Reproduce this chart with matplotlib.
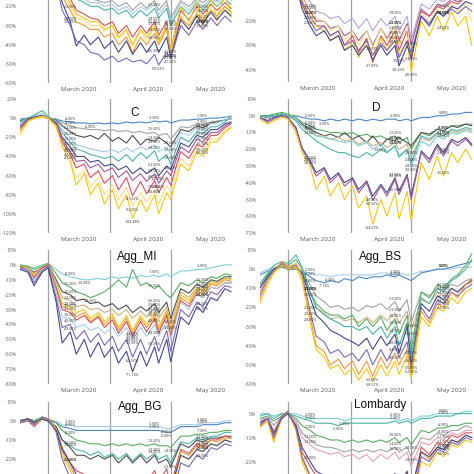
import matplotlib
matplotlib.use("Agg")
import matplotlib.pyplot as plt
import matplotlib.dates as mdates
from matplotlib.ticker import FuncFormatter
import numpy as np
import pandas as pd

plt.rcParams["font.family"] = ["Open Sans", "DejaVu Sans"]

dates = pd.to_datetime([
    "2020-02-16", "2020-02-20", "2020-02-23", "2020-02-27",
    "2020-03-01", "2020-03-05", "2020-03-08", "2020-03-12", "2020-03-15",
    "2020-03-19", "2020-03-22", "2020-03-26", "2020-03-29",
    "2020-04-02", "2020-04-05", "2020-04-09", "2020-04-12", "2020-04-16",
    "2020-04-19", "2020-04-23", "2020-04-25", "2020-04-29",
    "2020-05-01", "2020-05-06", "2020-05-10", "2020-05-14", "2020-05-17",
    "2020-05-21", "2020-05-24", "2020-05-28", "2020-05-31",
])
month_starts = ["2020-03-01", "2020-04-01", "2020-05-01"]
month_names = ["March 2020", "April 2020", "May 2020"]
month_label_at = ["2020-03-16", "2020-04-20", "2020-05-21"]

# ---- panel A (top left, partly cut) ----
a_purple = [0, 0, -2, 0, 0, -8, -22, -30, -38, -40, -44, -45, -48,
            -46, -49, -47, -49, -48, -50, -45, -50.62, -44,
            -47, -30, -35, -28, -32, -26, -30, -25, -28]
a_navy = [0, 0, -2, 0, 0, -6, -18, -28, -40.71, -35, -40, -36, -42,
          -38, -44, -38, -45, -39, -44, -38, -44, -36,
          -47, -27, -32, -25, -29, -23, -27, -22, -25]
a_orange = [0, 0, -1, 0, 0, -5, -15, -22, -28, -30, -32, -32, -36,
            -34, -40, -36, -44, -36, -40, -34, -40, -32,
            -45, -26, -30, -24, -27, -22, -25, -20, -23]
a_yellow = [0, 0, -1, 0, 0, -4, -12, -18, -24, -26, -28, -28, -32,
            -30, -36, -32, -40, -32, -36, -30, -38, -30,
            -42, -20, -28, -18, -30, -16, -26, -14, -24]
a_red = [0, 0, -1, 0, 0, -4, -10, -16, -22, -24, -26, -27, -30,
         -28, -34, -30, -36, -30, -34, -28, -35, -28,
         -44, -22, -27, -20, -24, -19, -22, -18, -21]
a_teal = [0, 0, 0, 0, 0, -3, -8, -12, -16, -18, -20, -20, -22,
          -21, -24, -22, -26, -22, -25, -21, -26, -21,
          -30, -20, -24, -18, -22, -17, -20, -16, -19]
a_lblue = [0, 0, 0, 0, 0, -2, -6, -10, -14, -16, -18, -18, -20,
           -19, -22, -20, -24, -20, -22, -19, -24, -19,
           -28, -18, -22, -17, -20, -16, -18, -15, -17]
a_grey = [0, 0, 0, 0, 0, -2, -5, -8, -12, -14, -16, -17, -18,
          -17, -20, -18, -22, -18, -21, -17, -22, -17,
          -26, -17, -20, -16, -18, -15, -17, -14, -16]
a_pyellow = [0, 0, -1, 0, 0, -4, -13, -20, -26, -27, -30, -30, -33,
             -31, -37, -33, -41, -33, -38, -31, -39, -31,
             -44, -25, -32, -23, -30, -21, -28, -20, -26]

# ---- panel B (top right, partly cut) ----
b_navy = [0, 0, -1, 0, 0, -5, -15, -22, -26, -24, -28, -26, -32,
          -30, -34, -30, -36, -30, -34, -30, -38.43, -30,
          -35, -18, -22, -16, -18, -14, -15, -12, -13]
b_purple = [0, 0, -1, 0, 0, -4, -13, -20, -24, -22, -26, -24, -30,
            -28, -32, -28, -34, -29, -32, -28, -35, -28,
            -33, -18, -21, -16, -18, -15, -17, -14, -16]
b_yellow = [0, 0, 0, 0, 0, -4, -14, -18, -22, -24, -28, -26, -32,
            -28, -35, -28, -34, -27, -32, -26, -34, -28,
            -40.6, -20, -26, -18, -24, -16, -22, -18, -30]
b_red = [0, 0, -1, 0, 0, -4, -12, -18, -22, -22, -26, -24, -30,
         -26, -33, -27, -37, -26, -30, -24, -32, -24,
         -36, -16, -18, -14, -15, -12, -13, -10, -11]
b_magenta = [0, 0, -1, 0, 0, -3, -10, -16, -20, -20, -23, -22, -26,
             -24, -28, -24, -30, -23, -27, -22, -28, -21,
             -30, -15, -18, -13, -14, -11, -12, -10, -11]
b_pyellow = [0, 0, 0, 0, 0, -3, -11, -15, -19, -20, -24, -22, -28,
             -24, -30, -24, -31, -23, -28, -22, -30, -22,
             -34, -17, -20, -15, -18, -13, -16, -13, -20]
b_lpurple = [0, 0, 0, 0, 0, -2, -8, -12, -16, -17, -19, -18, -21,
             -19, -23, -19, -24, -19, -22, -18, -24, -18,
             -28, -13, -15, -11, -12, -9, -10, -8, -9]

# ---- panel C ----
c_yellow = [-15, -3, 0, 2, 0, -8, -30, -45, -70, -58, -80, -68, -90,
            -75, -95, -80, -104.48, -85, -98, -80, -100, -78,
            -85, -48, -55, -35, -40, -25, -25, -15, -10]
c_pyellow = [-18, -4, -1, 1, -1, -10, -28, -42, -62, -55, -72, -62, -80,
             -70, -85, -72, -92, -78, -88, -75, -90, -70,
             -78, -42, -50, -30, -36, -22, -22, -13, -9]
c_red = [-12, -2, 0, 1, 0, -7, -25, -38, -52, -48, -62, -55, -68,
         -60, -75, -62, -81.03, -66, -79, -65, -78, -62,
         -70, -35, -42, -28, -30, -18, -18, -10, -6]
c_magenta = [-10, -2, 0, 2, 0, -6, -22, -35, -45, -44, -52, -48, -56,
             -52, -62, -55, -65, -58, -66, -58, -68, -55,
             -60, -30, -36, -22, -25, -15, -15, -8, -5]
c_navy = [-8, -1, 1, 3, 0, -5, -20, -30, -40, -40, -46, -44, -50,
          -48, -54, -50, -58, -52, -58, -52, -60, -50,
          -54, -26, -30, -18, -20, -12, -12, -6, -4]
c_teal = [-5, 0, 3, 8, 2, -4, -15, -25, -32, -35, -38, -40, -42,
          -40, -45, -38, -45, -36, -42, -34, -45, -38,
          -48, -20, -25, -14, -16, -9, -9, -4, 2]
c_lblue = [-4, 0, 2, 5, 1, -3, -12, -20, -28, -30, -32, -34, -35,
           -33, -36, -31, -35, -30, -33, -28, -35, -30,
           -38, -15, -18, -10, -12, -6, -5, -2, -1]
c_dgrey = [-3, 0, 1, 2, 0, -2, -8, -14, -18, -20, -18, -22, -16,
           -24, -20, -26, -18, -28, -22, -24, -20, -26,
           -30, -12, -14, -8, -10, -5, -4, -2, -1]
c_blue = [-1, 0, 0, 1, 0, -1, -3, -4, -5, -5, -6, -5, -6,
          -5, -6, -4, -5, -4, -5, -3, -4, -3,
          -5, -2, -2, -1, -1, 0, 0, 1, 2]
c_grey = [-2, 0, 0, 1, 0, -1, -5, -8, -10, -11, -12, -12, -13,
          -12, -14, -13, -15, -14, -16, -15, -18, -16,
          -22, -9, -10, -6, -7, -4, -3, -2, 0]

# ---- panel D ----
d_yellow = [-2, -5, -3, -1, -2, -10, -22, -30, -44, -36, -48, -40, -50,
            -42, -55, -48, -64.67, -50, -60, -46, -61.5, -45,
            -62.5, -28, -38, -24, -36, -22, -28, -20, -26]
d_magenta = [-1, -4, -2, 0, -1, -8, -20, -28, -36, -32, -40, -35, -42,
             -38, -46, -40, -50.5, -42, -48, -38, -47, -36,
             -50, -22, -28, -18, -24, -15, -18, -14, -18]
d_navy = [-1, -3, -1, 0, -1, -7, -19, -27, -34, -31, -38, -34, -40,
          -37, -44, -39, -48, -41, -46, -37, -45, -35,
          -48, -21, -26, -17, -22, -14, -16, -13, -17]
d_teal = [0, -1, 0, 1, 0, -3, -8, -12, -15, -18, -20, -22, -22,
          -24, -25, -22, -24, -20, -22, -18, -24, -20,
          -28, -12, -14, -10, -12, -8, -9, -7, -8]
d_turq = [0, -1, 0, 0, 0, -2, -6, -9, -12, -13, -14, -15, -16,
          -15, -18, -16, -20, -17, -22, -18, -25, -20,
          -30, -15, -18, -12, -14, -10, -11, -9, -10]
d_dgrey = [0, -1, 0, 1, 0, -2, -5, -8, -10, -12, -11, -13, -10,
           -14, -12, -16, -12, -18, -14, -15, -13, -16,
           -18, -10, -11, -8, -9, -6, -7, -5, -6]
d_green = [0, 0, 1, 2, 1, -1, -4, -6, -8, -9, -10, -10, -11,
           -10, -12, -11, -13, -12, -14, -12, -16, -13,
           -20, -10, -12, -8, -9, -6, -6, -5, -5]
d_blue = [0, 0, 0, 1, 0, 0, -1, -2, -2, -3, -2, -3, -2,
          -3, -2, -3, -2, -3, -2, -2, -3, -2,
          -3, -1, -1, 0, 0, 1, 1, 2, 2]
d_tan = [-1, -2, -1, 0, 0, -2, -6, -10, -12, -12, -14, -13, -15,
         -14, -17, -15, -18, -16, -19, -16, -20, -17,
         -24, -13, -15, -11, -12, -9, -10, -8, -9]

# ---- panel Agg_MI ----
mi_navy = [-3, -5, -14, -5, -2, -25, -52.54, -45, -60, -50, -62, -52, -62,
           -55, -66, -58, -71.74, -58, -68, -55, -66, -50,
           -65, -35, -40, -28, -32, -22, -24, -16, -18]
mi_purple = [-2, -4, -12, -4, -1, -22, -42, -40, -50, -44, -52, -46, -54,
             -48, -58, -50, -62, -50, -60, -48, -58, -44,
             -58, -30, -35, -25, -28, -18, -20, -14, -15]
mi_lblue = [-2, -3, -10, -3, -1, -18, -35, -36, -42, -40, -44, -42, -46,
            -42, -48, -42, -50, -42, -48, -40, -48, -38,
            -50, -25, -30, -20, -22, -15, -16, -12, -12]
mi_orange = [-1, -3, -8, -3, 0, -15, -28, -30, -35, -32, -38, -34, -40,
             -35, -44, -36, -46, -36, -42, -34, -44, -32,
             -46, -22, -26, -17, -20, -13, -14, -10, -11]
mi_yellow = [-1, -2, -7, -2, 0, -14, -26, -28, -32, -30, -36, -32, -38,
             -33, -42, -34, -44, -34, -40, -32, -42, -30,
             -44, -20, -24, -16, -18, -12, -13, -9, -10]
mi_red = [-1, -3, -9, -2, 0, -16, -30, -32, -37, -34, -39, -35, -42,
          -37, -46, -38, -48, -38, -45, -36, -46, -34,
          -48, -24, -28, -19, -22, -15, -16, -12, -12]
mi_tan = [-1, -2, -6, -2, 0, -12, -22, -24, -28, -27, -30, -29, -32,
          -30, -34, -30, -36, -31, -35, -29, -36, -28,
          -40, -18, -22, -15, -17, -11, -12, -9, -9]
mi_dgrey = [-1, -2, -5, -2, 0, -10, -18, -20, -24, -23, -26, -25, -28,
            -26, -30, -27, -32, -28, -31, -26, -32, -25,
            -36, -16, -19, -13, -15, -10, -11, -8, -8]
mi_green = [0, -1, -3, -1, 1, -6, -12, -15, -18, -20, -22, -20, -18,
            -14, -10, -15, -3, -14, -12, -16, -14, -20,
            -22, -12, -14, -10, -12, -8, -9, -6, -7]
mi_turq = [0, -1, -2, 0, 1, -3, -6, -8, -9, -10, -10, -9, -10,
           -8, -9, -8, -9, -7, -8, -7, -8, -6,
           -8, -4, -4, -3, -3, -2, -1, 0, 0]

# ---- panel Agg_BS ----
bs_yellow = [-18, -8, -2, 2, 0, 1, -6, -28, -42, -46, -52, -50, -55,
             -52, -58, -52, -58.51, -50, -56, -48, -55, -45,
             -57, -25, -30, -20, -22, -15, -18, -12, -10]
bs_orange = [-16, -6, -2, 4, 1, 3, -4, -25, -40, -43, -50, -47, -52,
             -48, -55, -48, -56, -46, -52, -44, -50, -42,
             -54, -22, -28, -18, -20, -12, -15, -8, -5]
bs_purple = [-14, -5, -1, 3, 0, 2, -3, -22, -35, -38, -44, -42, -46,
             -44, -48, -42, -50, -42, -48, -40, -46, -38,
             -52, -20, -26, -16, -18, -12, -14, -10, -8]
bs_navy = [-10, -4, 0, 2, 0, 1, -2, -15, -24, -28, -32, -34, -36,
           -38, -40, -36, -42, -35, -40, -34, -44, -30,
           -50, -18, -22, -14, -16, -10, -12, -8, -6]
bs_teal = [-8, -2, 2, 4, 3, 7.44, 1, -12, -20, -24, -26, -28, -30,
           -30, -32, -30, -34, -30, -36, -30, -40, -28,
           -46, -15, -18, -10, -12, -6, -4, 0, 5]
bs_green = [-10, -3, 0, 3, 2, 5, 0, -12, -18, -22, -24, -24, -26,
            -24, -30, -26, -30, -25, -32, -26, -34, -24,
            -42, -12, -15, -8, -10, -5, -3, 2, 8]
bs_tan = [-12, -4, 0, 3, 1, 2, -2, -12, -20, -23, -26, -25, -27,
          -26, -28, -25, -28, -24, -27, -23, -28, -22,
          -32, -16, -18, -12, -14, -10, -12, -8, -7]
bs_grey = [-8, -3, 0, 2, 0, 1, -1, -8, -14, -17, -20, -19, -21,
           -20, -22, -19, -20, -18, -21, -17, -22, -16,
           -28, -12, -14, -10, -11, -8, -9, -6, -5]
bs_blue = [-3, -1, 0, 1, 0, 0, -1, -4, -6, -7.14, -6, -7, -5,
           -6, -4, -5, -4, -4, -3, -4, -3, -5,
           -6, -2, -1, 0, 0, 1, 2, 3, 4]
bs_lblue = [-2, 0, 1, 2, 0, 0, -1, -2, -3, -3, -4, -3, -3,
            -3, -3, -3, -3, -2, -2, -3, -2, -3,
            -3, -1, -1, 0, 0, 0, 1, 1, 1]

# ---- panel Agg_BG (bottom left, partly cut) ----
bg_lblue = [0, 1, 0, 1, 0, 0, -2, -2, -3, -3, -3, -3, -3,
            -3, -3, -3, -3, -3, -3, -3, -3, -4,
            -4, -2, -2, -2, -1, -1, -1, 0, 0]
bg_blue = [0, 1, 0, 1, 0, -1, -3, -4, -5, -5, -5, -5, -5,
           -5, -5, -5, -5, -5, -5, -5, -5, -6,
           -6, -3, -3, -3, -2, -2, -2, -1, -1]
bg_green = [0, 1, 0, 2, 1, -1, -5, -8, -10, -11, -12, -12, -13,
            -12, -13, -12, -13, -12, -13, -12, -13, -13,
            -14, -8, -8, -7, -7, -6, -6, -5, -5]
bg_dgrey = [0, 1, -1, 1, 0, -3, -10, -14, -18, -18, -20, -18, -20,
            -18, -22, -18, -22, -18, -22, -18, -22, -20,
            -24, -12, -14, -10, -11, -9, -9, -8, -8]
bg_navy = [0, 1, -1, 1, 0, -5, -15, -22, -28, -30, -32, -30, -34,
           -30, -35, -30, -36, -30, -34, -28, -34, -28,
           -36, -18, -20, -15, -16, -12, -13, -10, -11]
bg_purple = [-1, 0, -2, 2, 1, -6, -20, -30, -36, -38, -40, -38, -42,
             -38, -44, -38, -46, -38, -42, -36, -42, -34,
             -44, -22, -24, -18, -20, -14, -15, -12, -13]
bg_yellow = [-1, 0, -2, 1, 1, -5, -18, -26, -32, -34, -36, -34, -38,
             -34, -40, -34, -42, -34, -38, -32, -38, -30,
             -40, -18, -20, -15, -16, -12, -13, -10, -11]
bg_orange = [0, 1, -2, 2, 1, -4, -16, -24, -30, -32, -34, -32, -36,
             -32, -38, -32, -40, -32, -36, -30, -36, -28,
             -38, -16, -18, -13, -14, -10, -11, -9, -9]
bg_red = [-1, 0, -3, 1, 0, -4, -14, -22, -26, -28, -30, -28, -32,
          -28, -34, -28, -36, -28, -32, -26, -32, -25,
          -34, -15, -17, -12, -13, -10, -10, -8, -9]
bg_teal = [0, 1, -1, 1, 0, -3, -10, -13, -15, -16, -18, -16, -19,
           -17, -20, -17, -21, -17, -20, -17, -20, -18,
           -22, -11, -12, -9, -10, -8, -8, -6, -6]

# ---- panel Lombardy (bottom right, partly cut) ----
lo_lblue = [0, 0, -1, 0, 0, 0, -1, -2, -2, -2, -2, -2, -3,
            -2, -2, -2, -2, -2, -2, -2, -3, -2,
            -3, -1, -1, 0, 0, 0, 0, 1, 1]
lo_teal = [-1, 0, -2, 0, 0, -1, -2, -3, -4, -4, -4, -5, -4,
           -4, -4, -4, -4, -4, -4, -3, -4, -3,
           -4, -2, -2, -1, -1, -1, 0, 0, 0]
lo_green = [-2, -1, -3, -1, 0, -2, -5, -7, -9, -10, -11, -11, -12,
            -11, -12, -11, -12, -11, -12, -10, -12, -10,
            -13, -7, -8, -6, -6, -5, -5, -4, -4]
lo_grey = [-3, -1, -5, -1, 0, -3, -8, -11, -13, -14, -14, -15, -16,
           -15, -16, -15, -16, -15, -16, -14, -16, -14,
           -18, -10, -11, -8, -9, -7, -7, -5, -6]
lo_navy = [-4, -2, -8, -2, 0, -5, -14, -20, -24, -26, -28, -27, -30,
           -27, -32, -27, -33, -26, -30, -25, -30, -24,
           -32, -16, -18, -14, -15, -11, -12, -9, -10]
lo_purple = [-5, -2, -10, -1, 1, -6, -18, -26, -30, -32, -34, -32, -36,
             -32, -38, -32, -40, -32, -36, -30, -36, -28,
             -38, -18, -20, -15, -16, -12, -13, -10, -11]
lo_yellow = [-6, -3, -12, -2, 1, -7, -20, -28, -34, -34, -36, -34, -38,
             -34, -40, -34, -42, -34, -38, -32, -38, -30,
             -40, -20, -22, -16, -18, -13, -14, -11, -12]
lo_orange = [-5, -3, -11, -1, 1, -6, -19, -26, -31, -32, -34, -32, -36,
             -33, -38, -33, -40, -32, -36, -30, -36, -28,
             -38, -16, -19, -14, -15, -11, -12, -9, -10]
lo_red = [-4, -2, -9, -1, 0, -5, -16, -22, -26, -28, -30, -28, -32,
          -29, -34, -29, -35, -28, -32, -27, -32, -25,
          -34, -14, -17, -12, -13, -9, -10, -8, -8]
lo_pink = [-3, -2, -7, -1, 0, -4, -10, -13, -15, -16, -17, -16, -18,
           -17, -19, -17, -20, -17, -19, -16, -19, -16,
           -22, -12, -13, -10, -11, -8, -9, -7, -7]

YEL = "#F3C911"
PYEL = "#F5DF8A"
ORG = "#F09B3A"
RED = "#D8505C"
MAG = "#A45A9A"
PUR = "#7C67B6"
LPUR = "#B7A6D9"
NAVY = "#45498A"
TEAL = "#4BB3A8"
TURQ = "#7CCFD6"
LBLU = "#A6CBE6"
GRN = "#5AAE61"
BLU = "#4C86C6"
GRY = "#A3A3A3"
DGRY = "#505050"
TAN = "#CDAF85"
PINK = "#E8A0B4"

W, H = 474.0, 474.0
LEFT = (20 / W, 213 / W)
RIGHT = (259.6 / W, 214.2 / W)
AX_H = 134 / H

panels = [
    # title, series, ylim, step, column, bottom_px, title_x, title_baseline
    ("", [(a_lblue, LBLU), (a_grey, GRY), (a_teal, TEAL), (a_red, RED),
          (a_pyellow, PYEL), (a_yellow, YEL), (a_orange, ORG),
          (a_navy, NAVY), (a_purple, PUR)],
     (-60, 10), 10, LEFT, 83, 0.55, 0.9),
    ("", [(b_lpurple, LPUR), (b_magenta, MAG), (b_red, RED),
          (b_pyellow, PYEL), (b_yellow, YEL), (b_purple, PUR),
          (b_navy, NAVY)],
     (-45, 10), 10, RIGHT, 82, 0.55, 0.9),
    ("C", [(c_blue, BLU), (c_grey, GRY), (c_dgrey, DGRY), (c_lblue, LBLU),
           (c_teal, TEAL), (c_navy, NAVY), (c_magenta, MAG), (c_red, RED),
           (c_pyellow, PYEL), (c_yellow, YEL)],
     (-120, 20), 20, LEFT, 233, 0.54, 0.873),
    ("D", [(d_blue, BLU), (d_green, GRN), (d_dgrey, DGRY), (d_tan, TAN),
           (d_turq, TURQ), (d_teal, TEAL), (d_navy, NAVY),
           (d_magenta, MAG), (d_yellow, YEL)],
     (-70, 10), 10, RIGHT, 233, 0.543, 0.912),
    ("Agg_MI", [(mi_turq, TURQ), (mi_green, GRN), (mi_dgrey, DGRY),
                (mi_tan, TAN), (mi_yellow, YEL), (mi_orange, ORG),
                (mi_red, RED), (mi_lblue, LBLU), (mi_purple, PUR),
                (mi_navy, NAVY)],
     (-80, 10), 10, LEFT, 384, 0.549, 0.925),
    ("Agg_BS", [(bs_lblue, LBLU), (bs_blue, BLU), (bs_grey, GRY),
                (bs_tan, TAN), (bs_green, GRN), (bs_teal, TEAL),
                (bs_navy, NAVY), (bs_purple, PUR), (bs_orange, ORG),
                (bs_yellow, YEL)],
     (-60, 10), 10, RIGHT, 384, 0.562, 0.925),
    ("Agg_BG", [(bg_lblue, LBLU), (bg_blue, BLU), (bg_green, GRN),
                (bg_teal, TEAL), (bg_dgrey, DGRY), (bg_red, RED),
                (bg_orange, ORG), (bg_yellow, YEL), (bg_navy, NAVY),
                (bg_purple, PUR)],
     (-60, 10), 10, LEFT, 535.7, 0.563, 0.938),
    ("Lombardy", [(lo_lblue, TURQ), (lo_teal, TEAL), (lo_green, GRN),
                  (lo_grey, GRY), (lo_pink, PINK), (lo_red, RED),
                  (lo_orange, ORG), (lo_yellow, YEL), (lo_navy, NAVY),
                  (lo_purple, PUR)],
     (-51, 5), 10, RIGHT, 535.7, 0.562, 0.95),
]

xs = mdates.date2num(dates)
x0 = mdates.date2num(pd.Timestamp("2020-02-16"))
x1 = mdates.date2num(pd.Timestamp("2020-06-01"))
extra_label_idx = [7, 19, 26]

fig = plt.figure(figsize=(W / 100, H / 100), dpi=100)


def visible(ax, x, y, margin=8):
    # keep a text only if it lands inside the saved picture
    px, py = ax.transData.transform((x, y))
    return margin < py < H - margin and 12 < px < W - 12


for title, series, ylim, step, col, bottom_px, tx, ty in panels:
    ax = fig.add_axes([col[0], 1 - bottom_px / H, col[1], AX_H])
    ax.set_xlim(x0, x1)
    ax.set_ylim(*ylim)
    span = ylim[1] - ylim[0]
    for m in month_starts:
        ax.axvline(mdates.date2num(pd.Timestamp(m)), color="#A0A0A0",
                   lw=0.9, zorder=0.5)
    for vals, c in series:
        ax.plot(xs, vals, color=c, lw=0.8, solid_joinstyle="round")
        imin = min(range(len(vals)), key=lambda i: vals[i])
        if visible(ax, xs[imin], vals[imin]):
            ax.text(xs[imin], vals[imin] - 0.012 * span,
                    f"{vals[imin]:.2f}%", fontsize=2.6, color="#333333",
                    ha="center", va="top")
        for i in extra_label_idx:
            if visible(ax, xs[i], vals[i]):
                ax.text(xs[i], vals[i] + 0.008 * span,
                        f"{vals[i]:.2f}%", fontsize=2.6, color="#333333",
                        ha="center", va="bottom")
    ax.set_xticks([])
    top_tick = np.floor(ylim[1] / step) * step
    ticks = np.arange(top_tick, ylim[0] - 0.1, -step)
    ticks = [t for t in ticks if visible(ax, x0 + 20, t, margin=3)]
    ax.set_yticks(ticks)
    ax.yaxis.set_major_formatter(FuncFormatter(lambda v, p: f"{v:.0f}%"))
    ax.tick_params(axis="y", length=0, pad=2.2, labelsize=3.8,
                   labelcolor="#666666")
    for s in ax.spines.values():
        s.set_visible(False)
    # month names sit 6 px under the plot; skip them when off the picture
    if bottom_px + 10 < H:
        for name, at in zip(month_names, month_label_at):
            ax.text(mdates.date2num(pd.Timestamp(at)), -0.045, name,
                    transform=ax.get_xaxis_transform(), ha="center",
                    va="center", fontsize=4.6, color="#555555")
    if title:
        ax.text(tx, ty, title, transform=ax.transAxes, ha="center",
                va="baseline", fontsize=8.5, family="Liberation Sans",
                color="#111111")

fig.savefig("out.png", dpi=100)
